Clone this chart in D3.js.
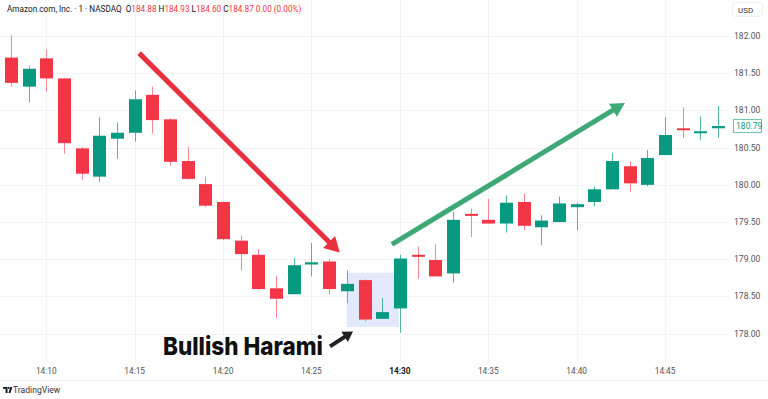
<!DOCTYPE html>
<meta charset="utf-8">
<style>
body { margin: 0; padding: 0; background: #fff; }
svg { display: block; font-family: Roboto, "Noto Sans", sans-serif; }
</style>
<script src="https://d3js.org/d3.v7.min.js"></script>
<div id="chart"></div>
<script>
// minutes after 14:00, one candle per minute
const minutes = d3.range(8, 49);
const open  = [181.71,181.32,181.70,181.43,180.49,180.11,180.62,180.70,181.21,180.88,180.32,180.01,179.77,179.25,179.06,178.61,178.53,178.93,178.97,178.57,178.72,178.20,178.34,179.06,178.99,178.81,179.61,179.53,179.48,179.77,179.43,179.50,179.70,179.77,179.94,180.25,180.00,180.40,180.76,180.71,180.76];
const high  = [182.01,181.60,181.82,181.43,180.51,180.91,180.84,181.27,181.32,180.90,180.51,180.11,179.78,179.32,179.14,178.78,179.02,179.22,179.00,178.85,178.73,178.48,179.06,179.17,179.20,179.64,179.68,179.81,179.86,179.88,179.59,179.84,179.76,179.98,180.43,180.32,180.47,180.91,181.04,180.92,181.06];
const low   = [181.32,181.11,181.25,180.42,180.07,180.04,180.35,180.58,180.69,180.26,180.07,179.70,179.26,178.85,178.59,178.21,178.53,178.77,178.53,178.41,178.16,178.20,178.01,178.74,178.77,178.69,179.30,179.48,179.36,179.39,179.19,179.50,179.39,179.71,179.94,179.90,179.98,180.40,180.63,180.60,180.63];
const close = [181.37,181.56,181.43,180.56,180.15,180.66,180.70,181.15,180.87,180.31,180.08,179.72,179.27,179.07,178.60,178.47,178.92,178.96,178.60,178.67,178.19,178.29,179.01,179.05,178.77,179.53,179.60,179.48,179.76,179.45,179.52,179.75,179.74,179.94,180.32,180.02,180.36,180.67,180.75,180.72,180.79];

const priceTicks = [178, 178.5, 179, 179.5, 180, 180.5, 181, 181.5, 182];
const timeTicks = [10, 15, 20, 25, 30, 35, 40, 45];
const lastPrice = 180.79;

const header = "Amazon.com, Inc. · 1 · NASDAQ";
const ohlc = [["O", "184.88"], ["H", "184.93"], ["L", "184.60"], ["C", "184.87"]];
const change = "0.00 (0.00%)";

// annotations, in [minute, price]
const downArrow = [[15.25, 181.77], [26.6, 179.09]];
const upArrow = [[29.55, 179.20], [42.73, 181.10]];
const haramiBox = [[27.0, 178.82], [29.95, 178.09]];
const labelArrow = [[26.05, 177.83], [27.35, 178.03]];
const labelPos = [16.6, 177.71];

const W = 768, H = 399;
const red = "#f23645", green = "#089981";

const svg = d3.select("#chart").append("svg")
  .attr("width", W).attr("height", H);

const x = d3.scaleLinear().domain([8, 48]).range([10.9, 718.1]);
const y = d3.scaleLinear().domain([178, 182]).range([333.7, 36]);

// grid
svg.append("g").selectAll("line").data(priceTicks).join("line")
  .attr("x1", 0).attr("x2", 729)
  .attr("y1", d => Math.round(y(d)) + 0.5).attr("y2", d => Math.round(y(d)) + 0.5)
  .attr("stroke", "#f2f3f5");
svg.append("g").selectAll("line").data(timeTicks).join("line")
  .attr("x1", d => Math.round(x(d)) + 0.5).attr("x2", d => Math.round(x(d)) + 0.5)
  .attr("y1", 0).attr("y2", 362)
  .attr("stroke", "#f2f3f5");

// harami highlight
svg.append("rect")
  .attr("x", x(haramiBox[0][0])).attr("y", y(haramiBox[0][1]))
  .attr("width", x(haramiBox[1][0]) - x(haramiBox[0][0]))
  .attr("height", y(haramiBox[1][1]) - y(haramiBox[0][1]))
  .attr("fill", "#e3e8fb");

// candles
const candles = minutes.map((m, i) => ({m, o: open[i], h: high[i], l: low[i], c: close[i]}));
const bw = 13;
const cg = svg.append("g").selectAll("g").data(candles).join("g");
cg.append("line")
  .attr("x1", d => Math.round(x(d.m)) + 0.5).attr("x2", d => Math.round(x(d.m)) + 0.5)
  .attr("y1", d => y(d.h)).attr("y2", d => y(d.l))
  .attr("stroke", d => d.c >= d.o ? "#4fb89e" : "#f58891");
cg.append("rect")
  .attr("x", d => Math.round(x(d.m)) - (bw - 1) / 2)
  .attr("y", d => y(Math.max(d.o, d.c)))
  .attr("width", bw)
  .attr("height", d => Math.max(2, Math.abs(y(d.o) - y(d.c))))
  .attr("fill", d => d.c >= d.o ? green : red);

// arrows
function arrow(pts, color, w, headLen, headW) {
  const [x0, y0] = [x(pts[0][0]), y(pts[0][1])];
  const [x1, y1] = [x(pts[1][0]), y(pts[1][1])];
  const a = Math.atan2(y1 - y0, x1 - x0);
  const bx = x1 - headLen * Math.cos(a), by = y1 - headLen * Math.sin(a);
  svg.append("line")
    .attr("x1", x0).attr("y1", y0).attr("x2", bx + Math.cos(a)).attr("y2", by + Math.sin(a))
    .attr("stroke", color).attr("stroke-width", w);
  const px = -Math.sin(a) * headW / 2, py = Math.cos(a) * headW / 2;
  svg.append("path")
    .attr("d", `M${x1},${y1}L${bx + px},${by + py}L${bx - px},${by - py}Z`)
    .attr("fill", color);
}
arrow(downArrow, "#e8303e", 5, 15, 17);
arrow(upArrow, "#3ea877", 5, 14, 15);
arrow(labelArrow, "#222", 4, 10, 12);

svg.append("text")
  .attr("x", x(labelPos[0])).attr("y", y(labelPos[1]))
  .attr("font-size", 25).attr("font-weight", 800)
  .attr("font-family", "Inter, Lato, sans-serif")
  .attr("textLength", 160).attr("lengthAdjust", "spacingAndGlyphs")
  .attr("fill", "#111")
  .text("Bullish Harami");

// right price axis
svg.append("g").selectAll("text").data(priceTicks).join("text")
  .attr("x", 734).attr("y", d => y(d) + 3)
  .attr("font-size", 8.6).attr("fill", "#555")
  .text(d => d3.format(".2f")(d));

svg.append("rect").attr("x", 732.5).attr("y", 2.5).attr("width", 30).attr("height", 14)
  .attr("rx", 3).attr("fill", "#fff").attr("stroke", "#eceef2");
svg.append("text").attr("x", 738).attr("y", 12.5).attr("font-size", 8).attr("fill", "#333").text("USD");

svg.append("rect").attr("x", 733.5).attr("y", y(lastPrice) - 6.5).attr("width", 28).attr("height", 13)
  .attr("fill", "#fff").attr("stroke", green).attr("stroke-opacity", 0.6);
svg.append("text").attr("x", 736).attr("y", y(lastPrice) + 3)
  .attr("font-size", 8.6).attr("fill", green).text(d3.format(".2f")(lastPrice));

// time axis
svg.append("g").selectAll("text").data(timeTicks).join("text")
  .attr("x", d => x(d)).attr("y", 374)
  .attr("text-anchor", "middle").attr("font-size", 8.3)
  .attr("font-weight", d => d === 30 ? 700 : 400)
  .attr("fill", d => d === 30 ? "#131722" : "#555")
  .text(d => "14:" + d3.format("02")(d));
svg.append("line").attr("x1", 0).attr("x2", W).attr("y1", 380.5).attr("y2", 380.5).attr("stroke", "#eceef2");

// header legend
const ht = svg.append("text").attr("x", 7).attr("y", 12).attr("font-size", 8.2).attr("fill", "#131722")
  .style("white-space", "pre");
ht.append("tspan").text(header + "  ");
ohlc.forEach(([k, v]) => {
  ht.append("tspan").text(k);
  ht.append("tspan").attr("fill", red).text(v + " ");
});
ht.append("tspan").attr("fill", red).text(change);

// logo
const logo = svg.append("g").attr("transform", "translate(3,387)").attr("fill", "#131722");
logo.append("path").attr("d", "M0,0H4.5V6H2.6V1.8H0Z");
logo.append("circle").attr("cx", 5.8).attr("cy", 1).attr("r", 1);
logo.append("path").attr("d", "M7.4,0H9.4L7.4,6H5.4Z");
svg.append("text").attr("x", 13).attr("y", 393).attr("font-size", 8.6).attr("fill", "#333").text("TradingView");
</script>
